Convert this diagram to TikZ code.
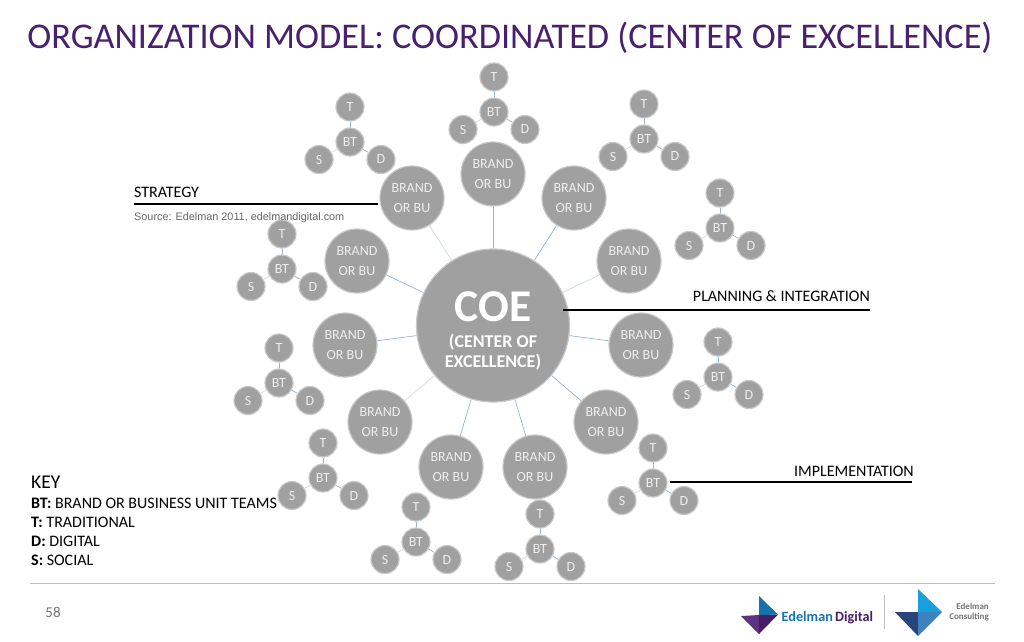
\documentclass[tikz,border=0pt]{standalone}
\usepackage{fontspec}
\setmainfont{Carlito}
\newfontfamily\arialfont{Liberation Sans}
\usetikzlibrary{
  positioning,
  calc
}
\definecolor{titlepurple}{RGB}{72,32,110}
\definecolor{circlegray}{RGB}{160,160,160}
\definecolor{glowgray}{RGB}{200,200,200}
\definecolor{circletext}{RGB}{238,238,238}
\definecolor{linkblue}{RGB}{150,180,205}
\definecolor{linkpale}{RGB}{205,218,225}
\definecolor{rulegray}{RGB}{190,190,190}
\definecolor{digiblue}{RGB}{20,115,175}
\definecolor{digipurple}{RGB}{95,50,130}
\definecolor{digideep}{RGB}{70,30,100}
\definecolor{consblue}{RGB}{25,160,220}
\definecolor{consmid}{RGB}{60,130,190}
\definecolor{consnavy}{RGB}{40,70,125}
\tikzset{
  bubble/.style={circle, fill=circlegray, draw=glowgray, line width=1.2pt, inner sep=0pt, text=circletext, align=center},
  coebubble/.style={bubble, minimum size=153pt, text=white, font=\fontsize{18}{20.5}\selectfont\bfseries},
  brandbubble/.style={bubble, minimum size=64pt, font=\fontsize{14}{20}\selectfont},
  teambubble/.style={bubble, minimum size=28pt, font=\fontsize{14}{15}\selectfont},
  link/.style={line width=0.7pt, draw=linkblue},
  palelink/.style={line width=0.7pt, draw=linkpale},
  headline/.style={line width=1.5pt, draw=black},
  tag/.style={font=\fontsize{16}{18}\selectfont, text=black, inner sep=0pt, anchor=base west}
}
\newcommand{\teamcluster}[3]{
  \node[teambubble] (bt#1) at (#2,#3) {BT};
  \node[teambubble] (t#1) at ($(bt#1)+(0,-35)$) {T};
  \node[teambubble] (s#1) at ($(bt#1)+(-31,17.5)$) {S};
  \node[teambubble] (d#1) at ($(bt#1)+(31,17.5)$) {D};
  \draw[link] (bt#1) -- (t#1);
  \draw[palelink] (bt#1) -- (s#1);
  \draw[link] (bt#1) -- (d#1);
}
\begin{document}
\begin{tikzpicture}[x=1pt, y=-1pt]
  \useasboundingbox (0,0) rectangle (1024,641);

  % Title
  \node[font=\fontsize{36.2}{38}\selectfont, text=titlepurple, inner sep=0pt] (title) at (510,38) {ORGANIZATION MODEL: COORDINATED (CENTER OF EXCELLENCE)};

  % Center
  \node[coebubble] (coe) at (493,325.5) {\rule{0pt}{41pt}{\fontsize{45.5}{46}\selectfont COE}\\[5pt](CENTER OF\\EXCELLENCE)};

  % Brand circles
  \foreach \name/\x/\y/\style in {a/412/198/palelink, b/493/174/link, c/574/198/link, d/629/261/palelink, e/641/345/link, f/606/422/link, g/535/467/link, h/451/467/link, i/380/422/palelink, j/345/345/link, k/357/261/link}{
    \node[brandbubble] (brand\name) at (\x,\y) {BRAND\\OR BU};
    \draw[\style] (coe) -- (brand\name);
  }

  % Team clusters
  \teamcluster{1}{350}{142}
  \teamcluster{2}{494}{112}
  \teamcluster{3}{644}{139}
  \teamcluster{4}{720}{228}
  \teamcluster{5}{282}{269}
  \teamcluster{6}{279}{383}
  \teamcluster{7}{718}{377}
  \teamcluster{8}{653}{483}
  \teamcluster{9}{323}{478}
  \teamcluster{10}{416}{542}
  \teamcluster{11}{540}{549}

  % Callouts
  \node[tag] (strategy) at (134,197) {STRATEGY};
  \coordinate (strategyl) at (134,204);
  \coordinate (strategyr) at (378,204);
  \draw[headline] (strategyl) -- (strategyr);
  \node[font=\arialfont\fontsize{10.85}{12}\selectfont, text=black!60, inner sep=0pt, anchor=base west] (source) at (134,220) {Source: Edelman 2011, edelmandigital.com};

  \node[tag, anchor=base east] (planning) at (870,301) {PLANNING \& INTEGRATION};
  \coordinate (planningl) at (563,310);
  \coordinate (planningr) at (870,310);
  \draw[headline] (planningl) -- (planningr);

  \node[tag, anchor=base east] (implementation) at (914,476) {IMPLEMENTATION};
  \coordinate (impll) at (670,482);
  \coordinate (implr) at (912,482);
  \draw[headline] (impll) -- (implr);

  % Key
  \node[font=\fontsize{19.5}{21}\selectfont, inner sep=0pt, anchor=base west] (key) at (31,488) {KEY};
  \node[tag] (keybt) at (31,508) {\textbf{BT:} BRAND OR BUSINESS UNIT TEAMS};
  \node[tag] (keyt) at (31,527) {\textbf{T:} TRADITIONAL};
  \node[tag] (keyd) at (31,546) {\textbf{D:} DIGITAL};
  \node[tag] (keys) at (31,565) {\textbf{S:} SOCIAL};

  % Footer
  \draw[rulegray] (30,583.5) -- (995,583.5);
  \node[font=\fontsize{15}{17}\selectfont, text=black!55, inner sep=0pt] (pagenum) at (53,612) {58};

  % Edelman Digital logo
  \fill[digiblue] (759,596) -- (778,614.5) -- (759,615) -- cycle;
  \fill[digipurple] (741,616) -- (759,615) -- (759,634) -- cycle;
  \fill[digideep] (759,615) -- (778,614.5) -- (759,634) -- cycle;
  \node[font=\bfseries\fontsize{14.2}{16}\selectfont, inner sep=0pt, anchor=base west] (digital) at (781.5,621) {\textcolor{digiblue}{Edelman}\,\textcolor{digideep}{Digital}};
  \draw[rulegray] (884,595) -- (884,629);

  % Edelman Consulting logo
  \fill[consblue] (918,589) -- (942,612) -- (918,612) -- cycle;
  \fill[consnavy] (895,612) -- (918,612) -- (918,636) -- cycle;
  \fill[consmid] (918,612) -- (942,612) -- (918,636) -- cycle;
  \node[font=\bfseries\fontsize{9}{9.5}\selectfont, text=black!55, inner sep=0pt, align=right, anchor=east] (consulting) at (989,612) {Edelman\\Consulting};
\end{tikzpicture}
\end{document}
